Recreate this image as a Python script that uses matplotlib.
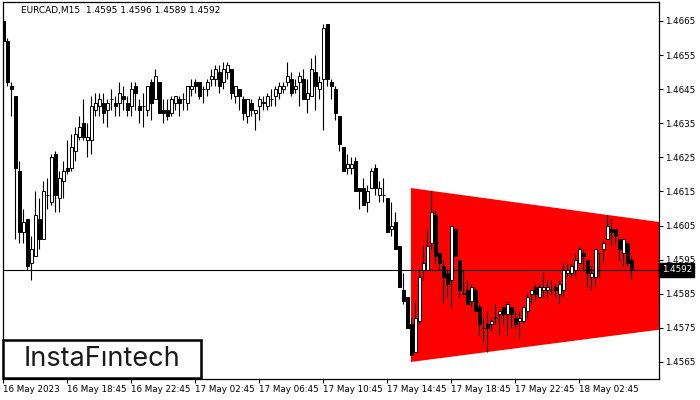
# plot.py
# EURCAD M15 candlestick chart with a bearish-triangle area
import matplotlib
matplotlib.use("Agg")
import matplotlib.pyplot as plt
from matplotlib.patches import Rectangle
import numpy as np

# Candle data (M15)
opens = [1.4665, 1.4659, 1.4646, 1.4643, 1.4621, 1.4603, 1.4607, 1.4594, 1.4596, 1.4607,
         1.4601, 1.4614, 1.4612, 1.4626, 1.4613, 1.4618, 1.4622, 1.4622, 1.4627, 1.4631,
         1.4635, 1.4630, 1.4630, 1.4639, 1.4640, 1.4641, 1.4639, 1.4642, 1.4641, 1.4641,
         1.4643, 1.4641, 1.4640, 1.4646, 1.4640, 1.4640, 1.4639, 1.4647, 1.4642, 1.4647,
         1.4639, 1.4639, 1.4638, 1.4641, 1.4642, 1.4642, 1.4641, 1.4645, 1.4647, 1.4647,
         1.4645, 1.4645, 1.4648, 1.4648, 1.4650, 1.4647, 1.4650, 1.4651, 1.4643, 1.4645,
         1.4642, 1.4637, 1.4641, 1.4638, 1.4640, 1.4641, 1.4640, 1.4642, 1.4643, 1.4644,
         1.4645, 1.4647, 1.4648, 1.4645, 1.4647, 1.4648, 1.4642, 1.4643, 1.4650, 1.4645,
         1.4648, 1.4664, 1.4647, 1.4645, 1.4637, 1.4628, 1.4622, 1.4622, 1.4624, 1.4616,
         1.4616, 1.4612, 1.4616, 1.4622, 1.4614, 1.4614, 1.4613, 1.4604, 1.4606, 1.4599,
         1.4586, 1.4584, 1.4576, 1.4568, 1.4577, 1.4592, 1.4592, 1.4600, 1.4608, 1.4597,
         1.4593, 1.4591, 1.4589, 1.4604, 1.4595, 1.4585, 1.4586, 1.4583, 1.4586, 1.4581,
         1.4575, 1.4576, 1.4576, 1.4578, 1.4579, 1.4581, 1.4579, 1.4581, 1.4578, 1.4577,
         1.4577, 1.4580, 1.4585, 1.4587, 1.4584, 1.4586, 1.4586, 1.4586, 1.4587, 1.4585,
         1.4586, 1.4591, 1.4591, 1.4592, 1.4594, 1.4597, 1.4595, 1.4590, 1.4590, 1.4597,
         1.4598, 1.4601, 1.4604, 1.4604, 1.4601, 1.4597, 1.4600, 1.4595]
highs = [1.4666, 1.4660, 1.4647, 1.4643, 1.4624, 1.4610, 1.4607, 1.4602, 1.4615, 1.4613,
         1.4618, 1.4619, 1.4626, 1.4627, 1.4621, 1.4624, 1.4630, 1.4632, 1.4634, 1.4637,
         1.4642, 1.4635, 1.4643, 1.4644, 1.4644, 1.4644, 1.4642, 1.4645, 1.4643, 1.4647,
         1.4646, 1.4643, 1.4647, 1.4647, 1.4642, 1.4644, 1.4646, 1.4648, 1.4651, 1.4647,
         1.4642, 1.4642, 1.4643, 1.4643, 1.4643, 1.4644, 1.4646, 1.4648, 1.4648, 1.4647,
         1.4646, 1.4648, 1.4651, 1.4652, 1.4652, 1.4653, 1.4653, 1.4651, 1.4646, 1.4645,
         1.4643, 1.4642, 1.4642, 1.4639, 1.4643, 1.4643, 1.4644, 1.4645, 1.4646, 1.4647,
         1.4647, 1.4653, 1.4650, 1.4648, 1.4650, 1.4651, 1.4648, 1.4654, 1.4655, 1.4649,
         1.4664, 1.4664, 1.4648, 1.4646, 1.4637, 1.4628, 1.4626, 1.4625, 1.4625, 1.4616,
         1.4619, 1.4617, 1.4622, 1.4623, 1.4618, 1.4619, 1.4613, 1.4612, 1.4609, 1.4599,
         1.4591, 1.4584, 1.4578, 1.4583, 1.4592, 1.4599, 1.4604, 1.4615, 1.4610, 1.4597,
         1.4595, 1.4592, 1.4605, 1.4604, 1.4595, 1.4592, 1.4589, 1.4588, 1.4587, 1.4582,
         1.4578, 1.4580, 1.4578, 1.4582, 1.4580, 1.4581, 1.4583, 1.4581, 1.4580, 1.4580,
         1.4581, 1.4585, 1.4586, 1.4588, 1.4588, 1.4591, 1.4589, 1.4589, 1.4588, 1.4589,
         1.4594, 1.4594, 1.4594, 1.4597, 1.4599, 1.4598, 1.4595, 1.4593, 1.4598, 1.4597,
         1.4601, 1.4608, 1.4607, 1.4604, 1.4601, 1.4601, 1.4600, 1.4596]
lows = [1.4658, 1.4646, 1.4637, 1.4601, 1.4600, 1.4600, 1.4592, 1.4589, 1.4596, 1.4598,
        1.4601, 1.4610, 1.4611, 1.4609, 1.4609, 1.4613, 1.4620, 1.4621, 1.4624, 1.4630,
        1.4630, 1.4625, 1.4626, 1.4637, 1.4637, 1.4635, 1.4634, 1.4639, 1.4637, 1.4637,
        1.4639, 1.4637, 1.4637, 1.4639, 1.4635, 1.4634, 1.4637, 1.4636, 1.4642, 1.4638,
        1.4635, 1.4636, 1.4637, 1.4639, 1.4637, 1.4639, 1.4639, 1.4643, 1.4644, 1.4642,
        1.4641, 1.4643, 1.4646, 1.4646, 1.4644, 1.4645, 1.4648, 1.4642, 1.4641, 1.4639,
        1.4636, 1.4635, 1.4637, 1.4633, 1.4636, 1.4639, 1.4639, 1.4640, 1.4640, 1.4642,
        1.4644, 1.4646, 1.4643, 1.4644, 1.4640, 1.4642, 1.4638, 1.4643, 1.4639, 1.4642,
        1.4633, 1.4646, 1.4642, 1.4636, 1.4627, 1.4621, 1.4620, 1.4620, 1.4615, 1.4610,
        1.4611, 1.4609, 1.4616, 1.4614, 1.4612, 1.4612, 1.4603, 1.4602, 1.4598, 1.4587,
        1.4582, 1.4575, 1.4567, 1.4568, 1.4576, 1.4589, 1.4592, 1.4598, 1.4594, 1.4592,
        1.4582, 1.4584, 1.4581, 1.4596, 1.4584, 1.4585, 1.4582, 1.4581, 1.4580, 1.4573,
        1.4571, 1.4568, 1.4574, 1.4576, 1.4573, 1.4576, 1.4573, 1.4575, 1.4575, 1.4572,
        1.4576, 1.4578, 1.4582, 1.4583, 1.4584, 1.4584, 1.4584, 1.4585, 1.4584, 1.4582,
        1.4584, 1.4590, 1.4590, 1.4590, 1.4594, 1.4592, 1.4587, 1.4586, 1.4587, 1.4590,
        1.4594, 1.4601, 1.4599, 1.4600, 1.4595, 1.4593, 1.4593, 1.4589]
closes = [1.4659, 1.4647, 1.4645, 1.4622, 1.4603, 1.4606, 1.4593, 1.4598, 1.4608, 1.4601,
          1.4615, 1.4614, 1.4625, 1.4614, 1.4619, 1.4621, 1.4621, 1.4628, 1.4632, 1.4634,
          1.4631, 1.4631, 1.4640, 1.4641, 1.4642, 1.4638, 1.4641, 1.4642, 1.4640, 1.4644,
          1.4642, 1.4639, 1.4645, 1.4644, 1.4639, 1.4640, 1.4646, 1.4641, 1.4649, 1.4638,
          1.4638, 1.4637, 1.4642, 1.4643, 1.4641, 1.4642, 1.4646, 1.4646, 1.4646, 1.4643,
          1.4645, 1.4647, 1.4649, 1.4651, 1.4646, 1.4651, 1.4652, 1.4644, 1.4646, 1.4643,
          1.4638, 1.4642, 1.4639, 1.4639, 1.4642, 1.4641, 1.4643, 1.4642, 1.4645, 1.4646,
          1.4646, 1.4649, 1.4644, 1.4646, 1.4649, 1.4642, 1.4644, 1.4651, 1.4646, 1.4647,
          1.4663, 1.4648, 1.4646, 1.4638, 1.4629, 1.4621, 1.4623, 1.4623, 1.4615, 1.4615,
          1.4611, 1.4615, 1.4621, 1.4616, 1.4616, 1.4614, 1.4603, 1.4605, 1.4598, 1.4587,
          1.4583, 1.4575, 1.4567, 1.4578, 1.4590, 1.4594, 1.4599, 1.4609, 1.4596, 1.4594,
          1.4590, 1.4588, 1.4605, 1.4596, 1.4586, 1.4585, 1.4582, 1.4587, 1.4580, 1.4576,
          1.4575, 1.4575, 1.4577, 1.4578, 1.4580, 1.4579, 1.4582, 1.4579, 1.4576, 1.4578,
          1.4581, 1.4584, 1.4586, 1.4585, 1.4587, 1.4587, 1.4587, 1.4586, 1.4586, 1.4588,
          1.4592, 1.4592, 1.4593, 1.4595, 1.4598, 1.4596, 1.4591, 1.4591, 1.4598, 1.4597,
          1.4600, 1.4605, 1.4603, 1.4602, 1.4598, 1.4601, 1.4594, 1.4592]

# time axis labels (one every 16 bars = 4 hours)
time_labels = ["16 May 2023", "16 May 18:45", "16 May 22:45", "17 May 02:45",
               "17 May 06:45", "17 May 10:45", "17 May 14:45", "17 May 18:45",
               "17 May 22:45", "18 May 02:45"]
price_ticks = [1.4565, 1.4575, 1.4585, 1.4595, 1.4605, 1.4615,
               1.4625, 1.4635, 1.4645, 1.4655, 1.4665]

# triangle pattern: left edge / right edge (bar index), upper and lower borders
tri_x = [101.9, 164.2]
tri_upper = [1.4616, 1.4606]
tri_lower = [1.4565, 1.45745]

last_price = 1.4592
header = "EURCAD,M15  1.4595 1.4596 1.4589 1.4592"

o = np.array(opens)
h = np.array(highs)
l = np.array(lows)
c = np.array(closes)
idx = np.arange(len(o))

fig = plt.figure(figsize=(7, 4), dpi=100)
ax = fig.add_axes([3 / 700, 21 / 400, 656 / 700, 377 / 400])

# red triangle area
ax.fill([tri_x[0], tri_x[1], tri_x[1], tri_x[0]],
        [tri_upper[0], tri_upper[1], tri_lower[1], tri_lower[0]],
        color="#ff0000", lw=0, zorder=1)

# current price line
ax.axhline(last_price, color="black", lw=0.8, zorder=2)

# candles
ax.vlines(idx, l, h, color="black", lw=0.8, zorder=3)
up = c >= o
body = np.where(np.abs(c - o) < 1e-7, 0.00001, c - o)
ax.bar(idx, body, bottom=o, width=0.6,
       color=np.where(up, "white", "black"), edgecolor="black", lw=0.7, zorder=4)

ax.set_xlim(-0.075, 163.9)
ax.set_ylim(1.45600, 1.467057)

# axes styling like MT4
ax.yaxis.tick_right()
ax.set_yticks(price_ticks)
ax.set_yticklabels([f"{p:.4f}" for p in price_ticks])
ax.set_xticks(np.arange(0, 16 * len(time_labels), 16))
ax.set_xticklabels(time_labels)
for lab in ax.get_xticklabels():
    lab.set_horizontalalignment("left")
ax.tick_params(axis="both", direction="out", length=3, width=0.8, labelsize=6.3,
               pad=1.5, colors="black")
for sp in ax.spines.values():
    sp.set_linewidth(0.9)

# header text
ax.text(18 / 656, 1 - 8 / 377, header, transform=ax.transAxes, fontsize=6.5,
        va="center", ha="left")

# last price label on the axis
ax.text(1.004, last_price, f"{last_price:.4f}", transform=ax.get_yaxis_transform(),
        color="white", fontsize=6.3, va="center", ha="left",
        bbox=dict(boxstyle="square,pad=0.3", fc="black", ec="black"))

# logo box
fig.patches.append(Rectangle((3 / 700, 22 / 400), 198 / 700, 38 / 400,
                             transform=fig.transFigure, fc="white", ec="black",
                             lw=1.8, zorder=10))
fig.text(102 / 700, 41 / 400, "InstaF\u0131ntech", fontsize=19.5, color="#1a1a1a",
         family=["Inter", "DejaVu Sans"], ha="center", va="center", zorder=11)

fig.savefig("out.png", dpi=100)
